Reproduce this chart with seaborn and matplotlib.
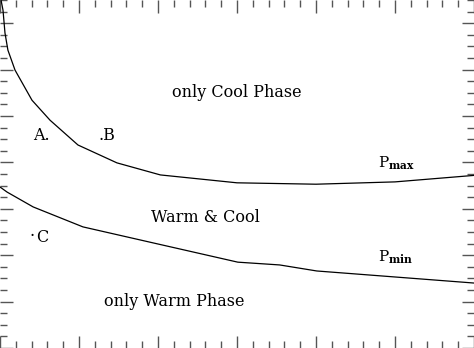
import matplotlib
matplotlib.use("Agg")
import matplotlib.pyplot as plt
from matplotlib.ticker import MultipleLocator
import seaborn as sns
import pandas as pd

# Pmax boundary (upper curve)
pmax_x = [0.013, 0.038, 0.063, 0.10, 0.19, 0.405, 0.633, 0.987, 1.48, 2.03, 3.0, 4.0, 5.0, 6.0]
pmax_y = [7.50, 7.28, 6.79, 6.42, 5.99, 5.34, 4.91, 4.375, 3.99, 3.73, 3.56, 3.53, 3.58, 3.72]
# Pmin boundary (lower curve)
pmin_x = [0.0, 0.09, 0.42, 1.05, 1.90, 3.01, 3.54, 4.01, 6.0]
pmin_y = [3.47, 3.36, 3.04, 2.61, 2.28, 1.85, 1.79, 1.66, 1.40]

region_labels = ["only Cool Phase", "Warm & Cool", "only Warm Phase"]

sns.set_style("ticks")
plt.rcParams['font.family'] = ['DejaVu Serif']
plt.rcParams['mathtext.fontset'] = 'dejavuserif'
plt.rcParams['text.color'] = 'black'

fig = plt.figure(figsize=(4.74, 3.48), dpi=100)
ax = fig.add_axes([0, 0, 1, 1])

df_max = pd.DataFrame({"x": pmax_x, "y": pmax_y})
df_min = pd.DataFrame({"x": pmin_x, "y": pmin_y})
sns.lineplot(data=df_max, x="x", y="y", ax=ax, color="black", lw=0.9, sort=False, estimator=None)
sns.lineplot(data=df_min, x="x", y="y", ax=ax, color="black", lw=0.9, sort=False, estimator=None)

ax.set_xlim(0, 6)
ax.set_ylim(0, 7.5)
ax.xaxis.set_major_locator(MultipleLocator(1))
ax.xaxis.set_minor_locator(MultipleLocator(0.2))
ax.yaxis.set_major_locator(MultipleLocator(1))
ax.yaxis.set_minor_locator(MultipleLocator(0.25))
ax.tick_params(which="both", direction="in", top=True, right=True, bottom=True, left=True,
               labelbottom=False, labelleft=False, color="#555555", width=1.0)
ax.tick_params(which="major", length=9)
ax.tick_params(which="minor", length=5)
for s in ax.spines.values():
    s.set_visible(False)
ax.set_xlabel("")
ax.set_ylabel("")

fs = 11.5
tc = "black"
ax.text(3.0, 5.5, region_labels[0], ha="center", va="center", fontsize=fs, color=tc)
ax.text(2.6, 2.82, region_labels[1], ha="center", va="center", fontsize=fs, color=tc)
ax.text(2.2, 1.01, region_labels[2], ha="center", va="center", fontsize=fs, color=tc)
ax.text(0.42, 4.59, "A.", ha="left", va="center", fontsize=fs, color=tc)
ax.text(1.25, 4.59, ".B", ha="left", va="center", fontsize=fs, color=tc)
ax.text(0.46, 2.38, "C", ha="left", va="center", fontsize=fs, color=tc)
ax.text(0.37, 2.52, ".", ha="left", va="center", fontsize=fs, color=tc)
ax.text(4.79, 3.99, r"$\mathrm{P}_{\mathbf{max}}$", ha="left", va="center", fontsize=11, color=tc)
ax.text(4.79, 1.96, r"$\mathrm{P}_{\mathbf{min}}$", ha="left", va="center", fontsize=11, color=tc)

fig.savefig("out.png", dpi=100)
